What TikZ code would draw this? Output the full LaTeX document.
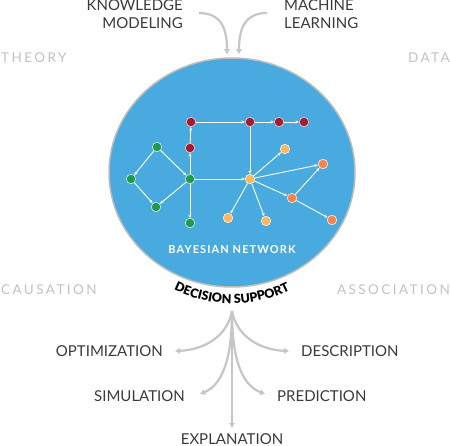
\documentclass[tikz,border=0pt]{standalone}
\usepackage{fontspec}
\setmainfont{Lato}
\newfontfamily\spacedfont[LetterSpace=18]{Lato}
\newfontfamily\bnfont[LetterSpace=10]{Lato Bold}
\newfontfamily\dsfont{Lato Black}
\usetikzlibrary{shapes.geometric,arrows.meta,decorations.text}
\definecolor{bnblue}{HTML}{48AADF}
\definecolor{bnrim}{HTML}{BDBDBD}
\definecolor{nred}{HTML}{A31B33}
\definecolor{ngreen}{HTML}{1F9A4E}
\definecolor{nlight}{HTML}{FDB762}
\definecolor{norange}{HTML}{F4844C}
\definecolor{faint}{HTML}{C2C2C2}
\definecolor{darktxt}{HTML}{3A3A3A}
\definecolor{arrowgray}{HTML}{C6C6C6}
\tikzset{
  netnode/.style={circle, minimum size=9.5pt, inner sep=0pt, draw=white!75!#1, line width=0.7pt, fill=#1},
  netedge/.style={draw=white, line width=0.9pt, -{Stealth[length=3.5pt,width=3pt]}},
  biglabel/.style={inner sep=0pt, text=darktxt, font=\fontsize{15}{18}\selectfont},
  sidelabel/.style={inner sep=0pt, text=faint, font=\spacedfont\fontsize{13.5}{15}\selectfont},
  flow/.style={draw=arrowgray, line width=2.2pt, -{Triangle[length=5pt,width=5.5pt]}},
}
\begin{document}
\begin{tikzpicture}[x=1pt,y=-1pt]
\useasboundingbox (0,0) rectangle (450,446);
% big circle
\node[ellipse, minimum width=246pt, minimum height=229pt, inner sep=0pt,
      fill=bnblue, draw=bnrim, line width=1.5pt] (bn) at (232,172.5) {};
% network nodes
\node[netnode=nred] (r1) at (191,122) {};
\node[netnode=nred] (r2) at (250,122) {};
\node[netnode=nred] (r3) at (279,122) {};
\node[netnode=nred] (r4) at (304,122) {};
\node[netnode=nred] (r5) at (190,148) {};
\node[netnode=ngreen] (g1) at (157,147) {};
\node[netnode=ngreen] (g2) at (131,179) {};
\node[netnode=ngreen] (g3) at (190,179) {};
\node[netnode=ngreen] (g4) at (156,207) {};
\node[netnode=ngreen] (g5) at (190,223) {};
\node[netnode=nlight] (o0) at (250,179) {};
\node[netnode=nlight] (o1) at (285,149) {};
\node[netnode=norange] (o2) at (323,164) {};
\node[netnode=norange] (o3) at (292,198) {};
\node[netnode=norange] (o4) at (332,220) {};
\node[netnode=nlight] (o5) at (228,218) {};
\node[netnode=nlight] (o6) at (266,221) {};
% network edges
\foreach \a/\b in {r1/r2,r2/r3,r3/r4,r5/r1,g3/r5,g1/g2,g1/g3,g2/g4,g3/g4,g3/g5,g3/o0,r2/o0,o0/o1,o0/o2,o0/o3,o3/o2,o3/o4,o0/o5,o0/o6}
  \draw[netedge] (\a) -- (\b);
% label inside
\node[inner sep=0pt, text=white, font=\bnfont\fontsize{11}{13}\selectfont] (bnlabel) at (232,250) {BAYESIAN NETWORK};
% decision support along arc
\path[decorate, decoration={text along path, text align=center,
      text={|\dsfont\fontsize{12.5}{14}\selectfont|DECISION SUPPORT}}]
  (232,172.5) ++(124:131) arc[start angle=124, end angle=56, radius=131];
% top labels
\node[biglabel, align=right, anchor=east] (km) at (183,14) {KNOWLEDGE\\MODELING};
\node[biglabel, align=left, anchor=west] (ml) at (284,14) {MACHINE\\LEARNING};
\coordinate (kmstart) at (199,13);
\coordinate (mlstart) at (267,13);
\draw[flow] (kmstart) .. controls (222,13) and (227,30) .. ([xshift=-5pt,yshift=3pt]bn.north);
\draw[flow] (mlstart) .. controls (244,13) and (239,30) .. ([xshift=7pt,yshift=3pt]bn.north);
% side labels
\node[sidelabel, anchor=west] (theory) at (1,58) {THEORY};
\node[sidelabel, anchor=east] (data) at (450,58) {DATA};
\node[sidelabel, anchor=west] (causation) at (1,290) {CAUSATION};
\node[sidelabel, anchor=east] (association) at (450,290) {ASSOCIATION};
% bottom labels
\node[biglabel, anchor=east] (opt) at (163,351) {OPTIMIZATION};
\node[biglabel, anchor=west] (desc) at (301,351) {DESCRIPTION};
\node[biglabel, anchor=east] (sim) at (185,396) {SIMULATION};
\node[biglabel, anchor=west] (pred) at (277,396) {PREDICTION};
\node[biglabel] (expl) at (232,439.5) {EXPLANATION};
\coordinate (fork) at (232,311);
\draw[flow] (fork) .. controls (227,338) and (202,350) .. ([xshift=12pt]opt.east);
\draw[flow] (fork) .. controls (237,338) and (262,350) .. ([xshift=-12pt]desc.west);
\draw[flow] (fork) .. controls (232,360) and (222,385) .. ([xshift=15pt,yshift=2pt]sim.east);
\draw[flow] (fork) .. controls (232,360) and (242,385) .. ([xshift=-12pt,yshift=2pt]pred.west);
\draw[flow] (fork) -- ([yshift=6pt]expl.north);
\end{tikzpicture}
\end{document}
